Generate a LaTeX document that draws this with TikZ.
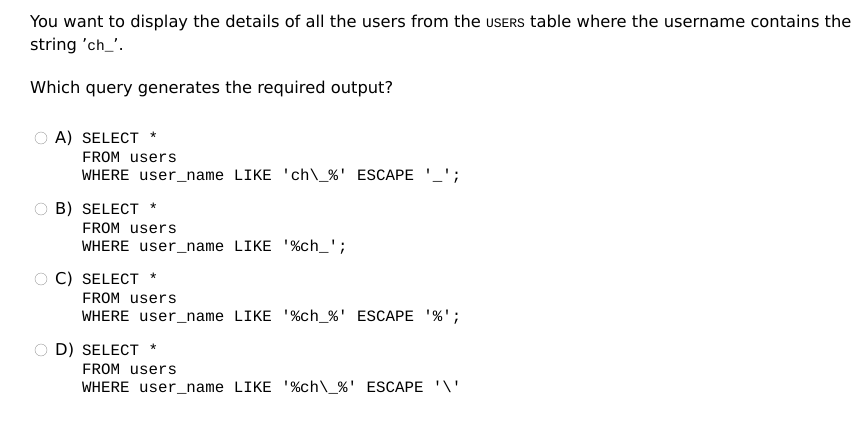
\documentclass[tikz,border=0pt]{standalone}
\usepackage{fontspec}
\setmainfont{DejaVu Sans}
\newfontfamily\cmono{Liberation Mono}
\begin{document}
\begin{tikzpicture}[x=1pt,y=-1pt,
  txt/.style={anchor=west,inner sep=0pt,font=\fontsize{16.3}{19}\selectfont},
  code/.style={anchor=west,inner sep=0pt,font=\cmono\fontsize{15.8}{18}\selectfont},
  radio/.style={circle,draw=gray!80,fill=white,minimum size=12pt,inner sep=0pt}]
\useasboundingbox (0,0) rectangle (862,428);
\node[txt] (l1) at (30,23) {You want to display the details of all the users from the {\cmono\fontsize{13}{15}\selectfont USERS} table where the username contains the};
\node[txt] (l2) at (30,46) {string '{\cmono\fontsize{14.5}{17}\selectfont ch\_}'.};
\node[txt] (q) at (30,89) {Which query generates the required output?};
\foreach \n/\lab/\y/\w in {a/A/138/{WHERE user\_name LIKE 'ch\textbackslash\_\%' ESCAPE '\_';},
                         b/B/209/{WHERE user\_name LIKE '\%ch\_';},
                         c/C/279/{WHERE user\_name LIKE '\%ch\_\%' ESCAPE '\%';},
                         d/D/350/{WHERE user\_name LIKE '\%ch\textbackslash\_\%' ESCAPE '\textbackslash'}}{
  \node[radio] (r\n) at (41,\y) {};
  \node[txt] (o\n) at (55,\y) {\lab)};
  \node[code] (s\n) at (82,\y) {SELECT *};
  \node[code] (f\n) at (82,\y+19) {FROM users};
  \node[code] (w\n) at (82,\y+38) {\w};
}
\end{tikzpicture}
\end{document}
